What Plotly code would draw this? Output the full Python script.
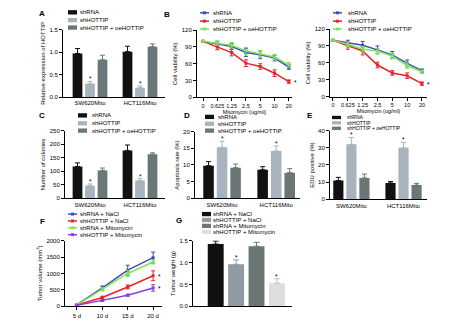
import plotly.graph_objects as go

W, H = 474, 329
FONT = "Liberation Sans, Arial, sans-serif"

# ---------------- data ----------------
cell_lines = ["SW620Mito", "HCT116Mito"]
bar_groups = ["shRNA", "shHOTTIP", "shHOTTIP + oeHOTTIP"]
bar_colors = ["#111111", "#a8b4bd", "#6b7776"]

# A: relative HOTTIP expression
expr_shrna = [0.97, 1.01]
expr_shhottip = [0.30, 0.21]
expr_oe = [0.83, 1.12]
expr_shrna_err = [0.11, 0.12]
expr_shhottip_err = [0.05, 0.04]
expr_oe_err = [0.10, 0.06]

# B: cell viability vs. mitomycin dose
dose_labels = ["0", "0.625", "1.25", "2.5", "5", "10", "20"]
line_groups = ["shRNA", "shHOTTIP", "shHOTTIP + oeHOTTIP"]
line_colors = ["#3b4cc0", "#e8232b", "#7ee25c"]

via1_shrna = [100, 96, 91, 80, 76, 70, 54]
via1_shhottip = [100, 90, 80, 61, 55, 43, 28]
via1_oe = [100, 97, 93, 83, 78, 72, 58]
via1_shrna_err = [1, 4, 5, 7, 7, 5, 4]
via1_shhottip_err = [1, 5, 6, 6, 5, 6, 3]
via1_oe_err = [1, 4, 5, 6, 6, 5, 4]

via2_shrna = [100, 95, 91, 83, 74, 59, 46]
via2_shhottip = [100, 90, 81, 56, 42, 37, 23]
via2_oe = [100, 93, 84, 81, 72, 55, 44]
via2_shrna_err = [1, 5, 7, 7, 6, 6, 3]
via2_shhottip_err = [1, 6, 7, 5, 4, 5, 3]
via2_oe_err = [1, 4, 5, 5, 5, 5, 3]

# C: colony numbers
col_shrna = [118, 177]
col_shhottip = [47, 66]
col_oe = [103, 163]
col_shrna_err = [13, 20]
col_shhottip_err = [6, 7]
col_oe_err = [9, 5]

# D: apoptosis rate
apo_shrna = [9.8, 8.6]
apo_shhottip = [15.3, 14.2]
apo_oe = [9.2, 7.7]
apo_shrna_err = [1.2, 0.9]
apo_shhottip_err = [1.8, 1.5]
apo_oe_err = [1.1, 1.2]

# E: EdU positive
edu_shrna = [11.0, 9.5]
edu_shhottip = [32.0, 30.0]
edu_oe = [12.5, 8.3]
edu_shrna_err = [1.8, 0.9]
edu_shhottip_err = [4.0, 3.2]
edu_oe_err = [2.2, 1.0]

# F: tumor volume over time
days = ["5 d", "10 d", "15 d", "20 d"]
vivo_groups = ["shRNA + NaCl", "shHOTTIP + NaCl", "shRNA + Mitomycin", "shHOTTIP + Mitomycin"]
vivo_line_colors = ["#3b4cc0", "#e8232b", "#7ee25c", "#8a3fe0"]
vol_shrna_nacl = [50, 560, 1100, 1480]
vol_shhottip_nacl = [40, 270, 590, 930]
vol_shrna_mito = [45, 520, 1000, 1350]
vol_shhottip_mito = [30, 180, 340, 560]
vol_shrna_nacl_err = [15, 60, 150, 170]
vol_shhottip_nacl_err = [10, 40, 60, 150]
vol_shrna_mito_err = [10, 50, 100, 60]
vol_shhottip_mito_err = [10, 30, 30, 100]

# G: tumor weight
weight = [1.42, 0.96, 1.37, 0.53]
weight_err = [0.07, 0.10, 0.09, 0.10]
weight_colors = ["#111111", "#8e9ba4", "#6b7574", "#dedede"]

# ---------------- layout helpers ----------------
BARGAP, BARGROUPGAP = 0.25, 0.22


def xdom(left, right):
    return [left / W, right / W]


def ydom(top, bottom):
    return [1 - bottom / H, 1 - top / H]


def base_axis(**kw):
    d = dict(showline=True, linecolor="black", linewidth=1, showgrid=False,
             zeroline=False, ticks="outside", ticklen=3, tickwidth=1,
             tickcolor="black", tickfont=dict(size=6, color="black", family=FONT),
             tickangle=0, fixedrange=True)
    d.update(kw)
    return d


fig = go.Figure()
annotations = []
shapes = []
STAR_FONT = dict(size=6.5, color="black", family=FONT)


def bar_offset(idx, k, n):
    return idx - (1 - BARGAP) / 2 + (k + 0.5) * (1 - BARGAP) / n


def add_bar_panel(axn, series, errors, star_series=1):
    xa = "x" if axn == 1 else f"x{axn}"
    ya = "y" if axn == 1 else f"y{axn}"
    for k, (vals, errs) in enumerate(zip(series, errors)):
        fig.add_trace(go.Bar(
            x=cell_lines, y=vals, name=bar_groups[k], marker_color=bar_colors[k],
            marker_line_width=0, xaxis=xa, yaxis=ya, showlegend=False,
            error_y=dict(type="data", array=errs, arrayminus=[0] * len(errs),
                         symmetric=False, color=bar_colors[k], thickness=1, width=2.5)))
    vals, errs = series[star_series], errors[star_series]
    for i, (v, e) in enumerate(zip(vals, errs)):
        annotations.append(dict(x=bar_offset(i, star_series, len(series)), y=v + e,
                                xref=xa, yref=ya, text="*", showarrow=False,
                                yanchor="bottom", yshift=-3, font=STAR_FONT))


def add_line_panel(axn, xcats, series, errors, colors, names, star_idx):
    xa = "x" if axn == 1 else f"x{axn}"
    ya = "y" if axn == 1 else f"y{axn}"
    for k, (vals, errs) in enumerate(zip(series, errors)):
        fig.add_trace(go.Scatter(
            x=xcats, y=vals, name=names[k], mode="lines+markers",
            line=dict(color=colors[k], width=1.5),
            marker=dict(color=colors[k], size=3, symbol="square"),
            xaxis=xa, yaxis=ya, showlegend=False,
            error_y=dict(type="data", array=errs, color=colors[k], thickness=1, width=2)))
    for k in star_idx:
        annotations.append(dict(x=len(xcats) - 1, y=series[k][-1], xref=xa, yref=ya,
                                text="*", showarrow=False, xanchor="left", xshift=3,
                                yshift=-1, font=STAR_FONT))


def legend_block(x_sym, x_text, rows, labels, colors, kind, fsize=6, sw_h=4.4):
    for y, lab, col in zip(rows, labels, colors):
        if kind == "bar":
            shapes.append(dict(type="rect", xref="paper", yref="paper",
                               x0=x_sym / W, x1=(x_sym + 9) / W,
                               y0=1 - (y + sw_h / 2) / H, y1=1 - (y - sw_h / 2) / H,
                               fillcolor=col, line_width=0))
        else:
            shapes.append(dict(type="line", xref="paper", yref="paper",
                               x0=x_sym / W, x1=(x_sym + 9) / W,
                               y0=1 - y / H, y1=1 - y / H,
                               line=dict(color=col, width=1.5)))
            shapes.append(dict(type="rect", xref="paper", yref="paper",
                               x0=(x_sym + 3) / W, x1=(x_sym + 6) / W,
                               y0=1 - (y + 1.5) / H, y1=1 - (y - 1.5) / H,
                               fillcolor=col, line_width=0))
        annotations.append(dict(text=lab, x=x_text / W, y=1 - y / H, xref="paper",
                                yref="paper", xanchor="left", yanchor="middle",
                                showarrow=False, borderpad=0,
                                font=dict(size=fsize, color="black", family=FONT)))


def panel_letter(letter, x, y):
    annotations.append(dict(text=f"<b>{letter}</b>", x=x / W, y=1 - y / H, xref="paper",
                            yref="paper", showarrow=False, xanchor="center",
                            yanchor="middle", font=dict(size=8, color="black", family=FONT)))


def ytitle(text):
    return dict(text=text, font=dict(size=6, color="black", family=FONT), standoff=3)


# ---------------- panels ----------------
# A
add_bar_panel(1, [expr_shrna, expr_shhottip, expr_oe],
              [expr_shrna_err, expr_shhottip_err, expr_oe_err])
# B (left and right)
add_line_panel(2, dose_labels, [via1_shrna, via1_shhottip, via1_oe],
               [via1_shrna_err, via1_shhottip_err, via1_oe_err], line_colors, line_groups, [1])
add_line_panel(3, dose_labels, [via2_shrna, via2_shhottip, via2_oe],
               [via2_shrna_err, via2_shhottip_err, via2_oe_err], line_colors, line_groups, [1])
# C
add_bar_panel(4, [col_shrna, col_shhottip, col_oe],
              [col_shrna_err, col_shhottip_err, col_oe_err])
# D
add_bar_panel(5, [apo_shrna, apo_shhottip, apo_oe],
              [apo_shrna_err, apo_shhottip_err, apo_oe_err])
# E
add_bar_panel(6, [edu_shrna, edu_shhottip, edu_oe],
              [edu_shrna_err, edu_shhottip_err, edu_oe_err])
# F
add_line_panel(7, days, [vol_shrna_nacl, vol_shhottip_nacl, vol_shrna_mito, vol_shhottip_mito],
               [vol_shrna_nacl_err, vol_shhottip_nacl_err, vol_shrna_mito_err, vol_shhottip_mito_err],
               vivo_line_colors, vivo_groups, [1, 3])
# G: one group of four bars
for k in range(len(weight)):
    fig.add_trace(go.Bar(
        x=["tumor"], y=[weight[k]], name=vivo_groups[k], marker_color=weight_colors[k],
        marker_line_width=0, xaxis="x8", yaxis="y8", showlegend=False,
        error_y=dict(type="data", array=[weight_err[k]], arrayminus=[0], symmetric=False,
                     color=weight_colors[k] if k != 3 else "#bdbdbd", thickness=1, width=3)))
for k in (1, 3):
    annotations.append(dict(x=bar_offset(0, k, len(weight)), y=weight[k] + weight_err[k],
                            xref="x8", yref="y8", text="*", showarrow=False,
                            yanchor="bottom", yshift=-3, font=STAR_FONT))

# legends
legend_block(68, 79, [9.5, 17.5, 25], bar_groups, bar_colors, "bar")
legend_block(200, 212, [10, 18.5, 26.5], line_groups, line_colors, "line")
legend_block(333, 347, [10, 18.5, 26.5], line_groups, line_colors, "line")
legend_block(78, 91, [114.5, 122.5, 130], bar_groups, bar_colors, "bar")
legend_block(205, 217, [116, 123, 130], bar_groups, bar_colors, "bar")
legend_block(332, 346, [116.6, 122.1, 127.6], bar_groups, bar_colors, "bar", fsize=5, sw_h=3.4)
legend_block(68, 79, [215, 222, 229, 236], vivo_groups, vivo_line_colors, "line")
legend_block(202, 212, [215, 221, 227, 233], vivo_groups, weight_colors, "bar")

for letter, x, y in [("A", 42, 11), ("B", 167, 12), ("C", 42, 115), ("D", 187, 115),
                     ("E", 310, 115), ("F", 42, 223), ("G", 179, 222)]:
    panel_letter(letter, x, y)

dose_title = dict(text="Mitomycin (ug/ml)", font=dict(size=5.5, color="black", family=FONT), standoff=0)
dose_tickfont = dict(size=5.5, color="black", family=FONT)

fig.update_layout(
    width=W, height=H, margin=dict(l=0, r=0, t=0, b=0),
    paper_bgcolor="white", plot_bgcolor="white",
    font=dict(family=FONT, size=6, color="black"),
    barmode="group", bargap=BARGAP, bargroupgap=BARGROUPGAP,
    showlegend=False,
    # A
    xaxis=base_axis(domain=xdom(63, 165), range=[-0.54, 1.5], ticks="", anchor="y"),
    yaxis=base_axis(domain=ydom(27, 96), range=[0, 1.5], tickvals=[0, 0.5, 1.0, 1.5],
                    tickformat=".1f", anchor="x", title=ytitle("Relative expression of HOTTIP")),
    # B left
    xaxis2=base_axis(domain=xdom(197, 292), range=[-0.42, 6.22], anchor="y2",
                     title=dose_title, tickfont=dose_tickfont),
    yaxis2=base_axis(domain=ydom(27.7, 96), range=[0, 120], tickvals=[0, 30, 60, 90, 120],
                     anchor="x2", title=ytitle("Cell viability (%)")),
    # B right
    xaxis3=base_axis(domain=xdom(330, 427), range=[-0.2, 6.34], anchor="y3",
                     title=dose_title, tickfont=dose_tickfont),
    yaxis3=base_axis(domain=ydom(26.5, 95.3), range=[0, 120], tickvals=[0, 30, 60, 90, 120],
                     anchor="x3", title=ytitle("Cell viability (%)")),
    # C
    xaxis4=base_axis(domain=xdom(65, 165), range=[-0.5, 1.5], ticks="", anchor="y4"),
    yaxis4=base_axis(domain=ydom(130, 199), range=[0, 250], tickvals=[0, 50, 100, 150, 200, 250],
                     anchor="x4", title=ytitle("Number of colonies")),
    # D
    xaxis5=base_axis(domain=xdom(195, 300), range=[-0.5, 1.44], ticks="", anchor="y5"),
    yaxis5=base_axis(domain=ydom(131, 199), range=[0, 20], tickvals=[0, 5, 10, 15, 20],
                     anchor="x5", title=ytitle("Apoptosis rate (%)")),
    # E
    xaxis6=base_axis(domain=xdom(330, 427), range=[-0.41, 1.45], ticks="", anchor="y6"),
    yaxis6=base_axis(domain=ydom(130, 200), range=[0, 40], tickvals=[0, 10, 20, 30, 40],
                     anchor="x6", title=ytitle("EDU positive (%)")),
    # F
    xaxis7=base_axis(domain=xdom(65, 162), range=[-0.47, 3.35], anchor="y7"),
    yaxis7=base_axis(domain=ydom(242, 309), range=[0, 2000], tickvals=[0, 500, 1000, 1500, 2000],
                     anchor="x7", title=ytitle("Tumor volume (mm<sup>3</sup>)")),
    # G
    xaxis8=base_axis(domain=xdom(193, 292), range=[-0.49, 0.42], ticks="",
                     showticklabels=False, anchor="y8"),
    yaxis8=base_axis(domain=ydom(242, 309), range=[0, 1.5], tickvals=[0, 0.5, 1.0, 1.5],
                     tickformat=".1f", anchor="x8", title=ytitle("Tumor weight (g)")),
    annotations=annotations,
    shapes=shapes,
)

fig.write_html("out.html")
